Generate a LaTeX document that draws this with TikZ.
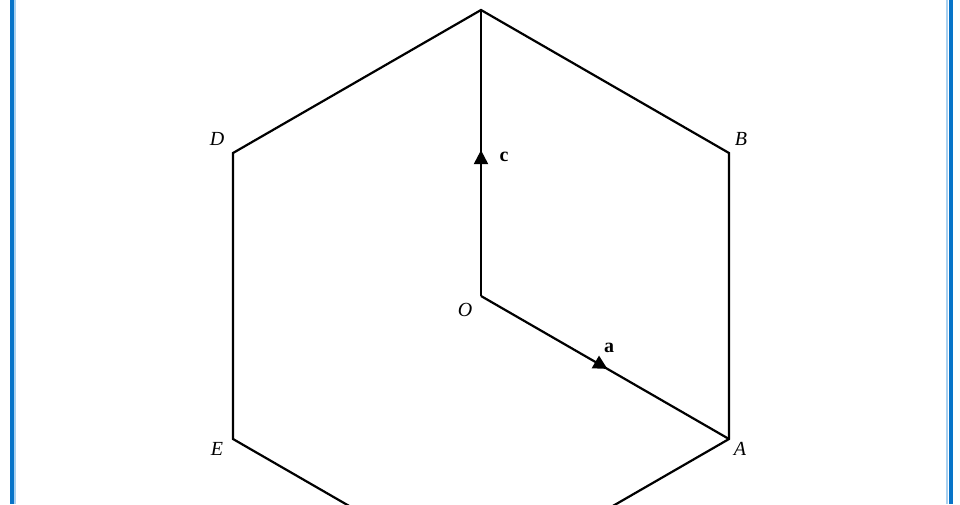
\documentclass[tikz,border=0pt]{standalone}
\usepackage{fontspec}
\setmainfont{Liberation Serif}
\usetikzlibrary{decorations.markings,arrows.meta}
\definecolor{framedark}{HTML}{0874C8}
\definecolor{framelight}{HTML}{A8D0F0}
\tikzset{
  edge/.style={line width=2.2pt, black},
  vlabel/.style={font=\itshape\fontsize{20}{20}\selectfont, inner sep=0pt},
  veclabel/.style={font=\bfseries\fontsize{20}{20}\selectfont, inner sep=0pt},
  midarrow/.style={decoration={markings, mark=at position #1 with {\arrow{Triangle[length=14pt,width=14pt]}}}, postaction={decorate}},
  stripedark/.style={framedark, line width=4pt},
  stripelight/.style={framelight, line width=2pt}
}
\begin{document}
\begin{tikzpicture}[x=1pt,y=-1pt]
\useasboundingbox (0,0) rectangle (960,504);
\begin{scope}
\clip (0,0) rectangle (960,504);
\coordinate (O) at (481,296);
\coordinate (C) at (481,10);
\coordinate (B) at (729,153);
\coordinate (A) at (729,439);
\coordinate (F) at (481,582);
\coordinate (E) at (233,439);
\coordinate (D) at (233,153);
\draw[edge, line join=miter] (C) -- (B) -- (A) -- (F) -- (E) -- (D) -- cycle;
\draw[edge, midarrow=0.51] (O) -- (C);
\draw[edge, midarrow=0.51] (O) -- (A);
\node[vlabel] (lD) at (217,139) {D};
\node[vlabel] (lB) at (741,139) {B};
\node[vlabel] (lE) at (217,449) {E};
\node[vlabel] (lA) at (740,449) {A};
\node[vlabel] (lO) at (465,310) {O};
\node[vlabel] (lC) at (481,-8) {C};
\node[veclabel] (lc) at (504,157) {c};
\node[veclabel] (la) at (609,348) {a};
\coordinate (L1) at (12,0); \coordinate (L2) at (12,504);
\coordinate (L3) at (15,0); \coordinate (L4) at (15,504);
\coordinate (R1) at (951,0); \coordinate (R2) at (951,504);
\coordinate (R3) at (947,0); \coordinate (R4) at (947,504);
\draw[stripedark] (L1) -- (L2);
\draw[stripelight] (L3) -- (L4);
\draw[stripedark] (R1) -- (R2);
\draw[stripelight] (R3) -- (R4);
\end{scope}
\end{tikzpicture}
\end{document}
